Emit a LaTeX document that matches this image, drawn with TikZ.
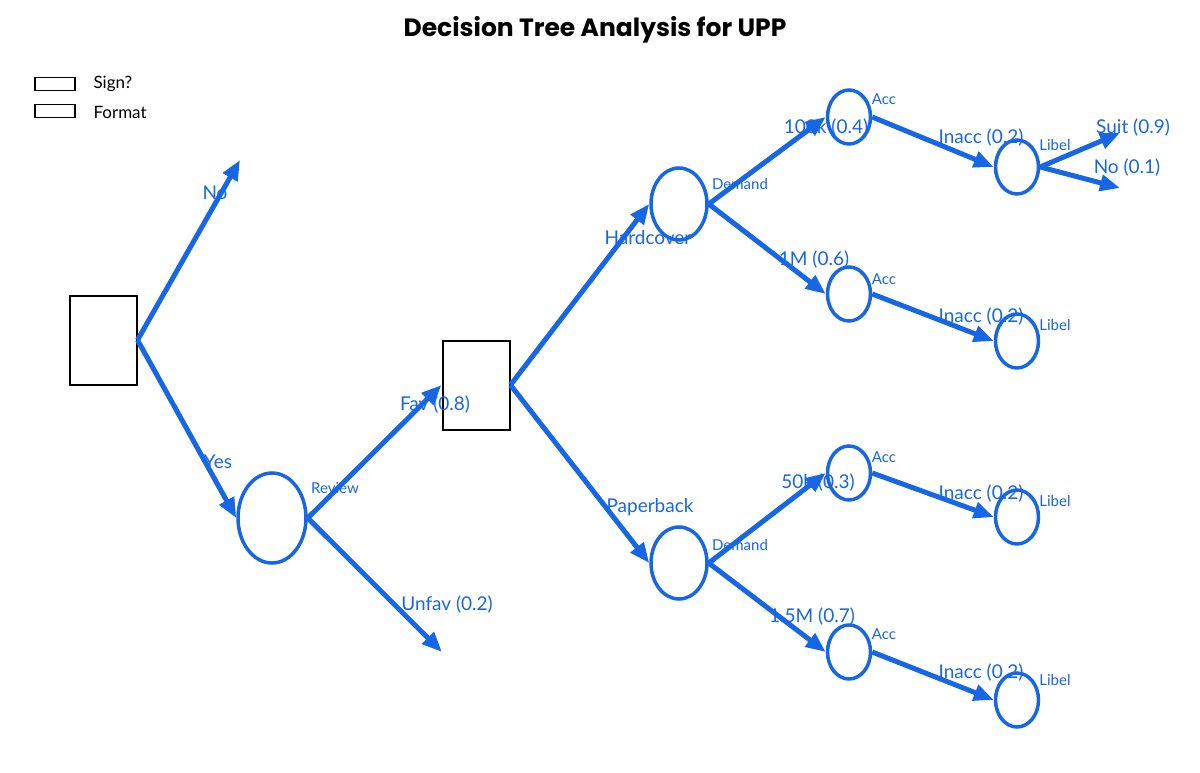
\documentclass[tikz,border=0pt]{standalone}
\usepackage{fontspec}
\setmainfont{Lato}
\newfontfamily\titlefont{Poppins}
\usetikzlibrary{shapes.geometric,arrows.meta}
\definecolor{tb}{HTML}{1766E6}
\begin{document}
\begin{tikzpicture}[x=1pt,y=-1pt,
  dec/.style={draw=black,line width=2pt,minimum width=67pt,minimum height=89pt,inner sep=0},
  chn/.style={draw=tb,ellipse,line width=3.5pt,inner sep=0},
  big/.style={minimum width=68pt,minimum height=90pt},
  mid/.style={minimum width=56pt,minimum height=72pt},
  sml/.style={minimum width=43pt,minimum height=54pt},
  edge/.style={draw=tb,line width=5pt,-{Triangle[length=20pt,width=16pt]}},
  lab/.style={text=tb,font=\fontsize{19}{22}\selectfont,inner sep=0},
  slab/.style={text=tb,font=\fontsize{15}{18}\selectfont,inner sep=0},
  leg/.style={draw=black,line width=1.5pt,minimum width=40pt,minimum height=13pt,inner sep=0}]
\useasboundingbox (0,0) rectangle (1200,773);
\node[font=\titlefont\bfseries\fontsize{25}{30}\selectfont] (title) at (595,30) {Decision Tree Analysis for UPP};
\node[leg] (l1) at (55,84) {};
\node[leg] (l2) at (55,111) {};
\node[anchor=west,font=\fontsize{17}{20}\selectfont] (lt1) at (90,84) {Sign?};
\node[anchor=west,font=\fontsize{17}{20}\selectfont] (lt2) at (90,112) {Format};

\node[dec] (d1) at (103,340) {};
\node[dec] (d2) at (476,385) {};
\node[chn,big] (rev) at (272,518) {};
\node[chn,mid] (dem1) at (679,204) {};
\node[chn,mid] (dem2) at (679,563) {};
\node[chn,sml] (acc1) at (849,117) {};
\node[chn,sml] (acc2) at (849,294) {};
\node[chn,sml] (acc3) at (849,473) {};
\node[chn,sml] (acc4) at (849,652) {};
\node[chn,sml] (lib1) at (1017,167) {};
\node[chn,sml] (lib2) at (1017,341) {};
\node[chn,sml] (lib3) at (1017,517) {};
\node[chn,sml] (lib4) at (1017,700) {};
\coordinate (eno) at (240,160);
\coordinate (eunf) at (442,652);
\coordinate (esuit) at (1120,133);
\coordinate (eno2) at (1120,188);

\draw[edge] (d1.east) -- (eno);
\draw[edge] (d1.east) -- (rev.west);
\draw[edge] (rev.east) -- (d2.west);
\draw[edge] (rev.east) -- (eunf);
\draw[edge] (d2.east) -- (dem1.west);
\draw[edge] (d2.east) -- (dem2.west);
\draw[edge] (dem1.east) -- (acc1.west);
\draw[edge] (dem1.east) -- (acc2.west);
\draw[edge] (dem2.east) -- (acc3.west);
\draw[edge] (dem2.east) -- (acc4.west);
\draw[edge] (acc1.east) -- (lib1.west);
\draw[edge] (acc2.east) -- (lib2.west);
\draw[edge] (acc3.east) -- (lib3.west);
\draw[edge] (acc4.east) -- (lib4.west);
\draw[edge] (lib1.east) -- (esuit);
\draw[edge] (lib1.east) -- (eno2);

\node[lab] (tNo) at (215,193) {No};
\node[lab] (tYes) at (218,462) {Yes};
\node[lab] (tFav) at (435,405) {Fav (0.8)};
\node[lab] (tUnf) at (447,605) {Unfav (0.2)};
\node[lab] (tHc) at (648,238) {Hardcover};
\node[lab] (tPb) at (650,507) {Paperback};
\node[lab] (t100) at (826,128) {100k (0.4)};
\node[lab] (t1m) at (814,260) {1M (0.6)};
\node[lab] (t50) at (818,483) {50k (0.3)};
\node[lab] (t15) at (812,617) {1.5M (0.7)};
\foreach \y [count=\i] in {138,317,494,673} \node[lab] (tin\i) at (981,\y) {Inacc (0.2)};
\node[lab] (tsuit) at (1133,128) {Suit (0.9)};
\node[lab] (tno2) at (1127,168) {No (0.1)};
\node[slab] (trev) at (335,488) {Review};
\node[slab] (tdem1) at (740,184) {Demand};
\node[slab] (tdem2) at (740,545) {Demand};
\foreach \y [count=\i] in {99,279,457,634} \node[slab] (tacc\i) at (884,\y) {Acc};
\foreach \y [count=\i] in {145,325,501,680} \node[slab] (tlib\i) at (1055,\y) {Libel};
\end{tikzpicture}
\end{document}
